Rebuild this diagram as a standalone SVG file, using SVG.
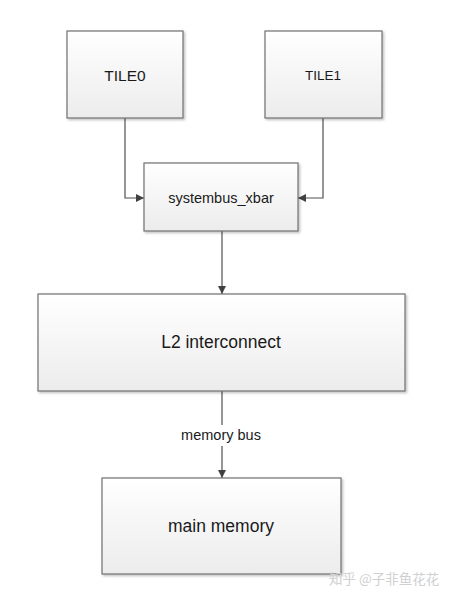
<svg xmlns="http://www.w3.org/2000/svg" width="450" height="598" viewBox="0 0 450 598">
<style>
.box{fill:url(#g);stroke:#707070;stroke-width:1.2;filter:url(#sh)}
.t{font-family:"Liberation Sans",Arial,sans-serif;fill:#1a1a1a;text-anchor:middle;dominant-baseline:central}
.c{fill:none;stroke:#505050;stroke-width:1.2;marker-end:url(#a)}
</style>
<defs>
<linearGradient id="g" x1="0" y1="0" x2="0" y2="1">
<stop offset="0" stop-color="#ffffff"/>
<stop offset="1" stop-color="#ececec"/>
</linearGradient>
<filter id="sh" x="-5%" y="-5%" width="115%" height="115%">
<feDropShadow dx="1.5" dy="1.5" stdDeviation="1" flood-color="#000" flood-opacity="0.25"/>
</filter>
<marker id="a" viewBox="0 0 10 10" refX="10" refY="5" markerWidth="8" markerHeight="8" markerUnits="userSpaceOnUse" orient="auto">
<path d="M0,0 L10,5 L0,10 z" fill="#404040"/>
</marker>
</defs>
<g id="connectors">
<path class="c" d="M125,118 V198 H144"/>
<path class="c" d="M323,118 V198 H298"/>
<path class="c" d="M222,231 V294"/>
<path class="c" d="M222,391 V425 M222,446 V478"/>
<text class="t" x="221" y="435" font-size="14.5">memory bus</text>
</g>
<g id="tile0">
<rect class="box" x="67" y="31" width="116" height="87"/>
<text class="t" x="125" y="75" font-size="15.5">TILE0</text>
</g>
<g id="tile1">
<rect class="box" x="265" y="31" width="117" height="87"/>
<text class="t" x="323" y="75" font-size="13.5">TILE1</text>
</g>
<g id="xbar">
<rect class="box" x="144" y="163" width="154" height="68"/>
<text class="t" x="221" y="198" font-size="14.5">systembus_xbar</text>
</g>
<g id="l2">
<rect class="box" x="38" y="294" width="367" height="97"/>
<text class="t" x="221" y="342" font-size="17.5">L2 interconnect</text>
</g>
<g id="mem">
<rect class="box" x="102" y="478" width="239" height="96"/>
<text class="t" x="221" y="526" font-size="17.5">main memory</text>
</g>
<text x="329" y="584" font-family="'Noto Sans CJK SC',sans-serif" font-size="13.5" fill="#d0d0d0">知乎 @子非鱼花花</text>
</svg>
